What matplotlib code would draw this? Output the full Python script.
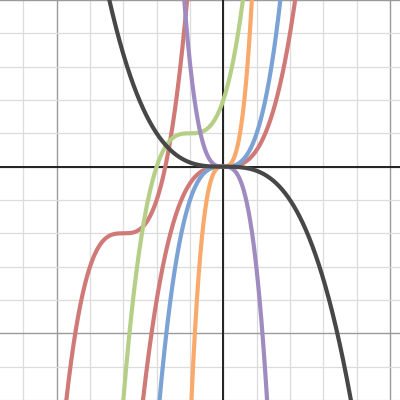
import numpy as np
import matplotlib.pyplot as plt

# curves: (coef, x shift, y shift, colour)
coefs  = [-0.125, -3.1, 8.0, 1.0, 0.5, 1.0, 1.0]
shiftx = [0, 0, 0, 0, 0, -1, -3]
shifty = [0, 0, 0, 0, 0, 1, -2]
colors = ["#474747", "#a08bc0", "#f9a96b", "#7aa2d4", "#d07a78", "#b6cf86", "#d07a78"]
order  = [6, 5, 4, 3, 2, 1, 0]

fig = plt.figure(figsize=(4, 4), dpi=100)
ax = fig.add_axes([0, 0, 1, 1])
ax.set_xlim(-6.7, 5.3)
ax.set_ylim(-7, 5)
for v in range(-6, 6):
    c, lw = ("#9a9a9a", 1.0) if v % 5 == 0 else ("#dcdcdc", 0.9)
    ax.axvline(v, color=c, lw=lw, zorder=0)
for v in range(-7, 6):
    c, lw = ("#9a9a9a", 1.0) if v % 5 == 0 else ("#dcdcdc", 0.9)
    ax.axhline(v, color=c, lw=lw, zorder=0)
ax.axhline(0, color="#222222", lw=1.4, zorder=1)
ax.axvline(0, color="#222222", lw=1.4, zorder=1)

x = np.linspace(-6.7, 5.3, 3000)
for i in order:
    y = coefs[i] * (x - shiftx[i]) ** 3 + shifty[i]
    y = np.where(np.abs(y) > 50, np.nan, y)
    ax.plot(x, y, color=colors[i], lw=3, solid_capstyle="round", zorder=2 + (7 - i))
ax.set_xticks([]); ax.set_yticks([])
for s in ax.spines.values():
    s.set_visible(False)
fig.savefig("out.png", dpi=100)
